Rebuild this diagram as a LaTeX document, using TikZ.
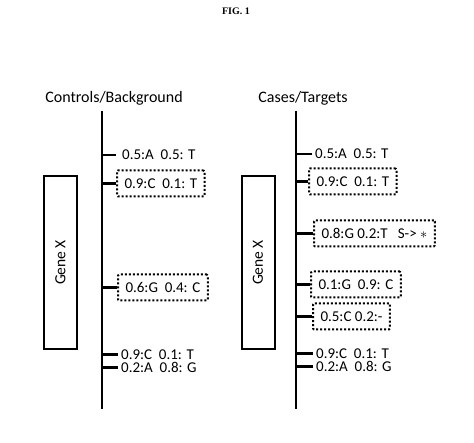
\documentclass[tikz,border=0pt]{standalone}
\usepackage{fontspec}
\setmainfont{Carlito}
\newfontfamily\figfont{Liberation Serif}
\begin{document}
\begin{tikzpicture}[x=1pt,y=-1pt,
  axis/.style={line width=2.6pt},
  tick/.style={line width=2.8pt},
  lbl/.style={anchor=west,font=\fontsize{15}{18}\selectfont,inner ysep=0pt,inner xsep=3pt,text height=9.5pt,text depth=0pt},
  dbox/.style={lbl,draw,line width=2pt,dash pattern=on 2pt off 2pt,rounded corners=1pt,minimum height=26pt,inner xsep=7.5pt},
  gene/.style={draw,line width=2pt,rotate=90,minimum width=173pt,minimum height=33pt,font=\fontsize{15.5}{18}\selectfont,inner sep=0pt},
  ttl/.style={anchor=base,font=\fontsize{16}{19}\selectfont,inner sep=0pt}]
\useasboundingbox (0,0) rectangle (474,443);
\node[anchor=base,font=\figfont\bfseries\fontsize{10}{12}\selectfont,inner sep=0pt] (fig) at (236,15) {FIG. 1};
% left
\node[ttl] (tL) at (114,103) {Controls/Background};
\coordinate (aLt) at (102,111);
\coordinate (aLb) at (102,409);
\draw[axis] (aLt) -- (aLb);
\node[gene] (gL) at (60.5,262.5) {Gene X};
\node[lbl,inner xsep=6pt] (L1) at (116,155) {0.5:A\ \ 0.5: T};
\node[dbox] (L2) at (116,183.5) {0.9:C\ \ 0.1: T};
\node[dbox] (L3) at (117,287.5) {0.6:G\ \ 0.4: C};
\node[lbl] (L4) at (118,354.5) {0.9:C\ \ 0.1: T};
\node[lbl] (L5) at (118,367.5) {0.2:A\ \ 0.8: G};
\foreach \n in {L1,L2,L3,L4,L5} \draw[tick] (\n.west -| aLt) -- (\n.west);
% right
\node[ttl] (tR) at (303,103) {Cases/Targets};
\coordinate (aRt) at (296,111);
\coordinate (aRb) at (296,409);
\draw[axis] (aRt) -- (aRb);
\node[gene] (gR) at (258,262.5) {Gene X};
\node[lbl] (R1) at (312,154) {0.5:A\ \ 0.5: T};
\node[dbox] (R2) at (308,181.5) {0.9:C\ \ 0.1: T};
\node[dbox] (R3) at (313,233.5) {0.8:G 0.2:T\ \ \ S-> $\ast$};
\node[dbox] (R4) at (310,284.5) {0.1:G\ \ 0.9: C};
\node[dbox] (R5) at (312,316.5) {0.5:C 0.2:-};
\node[lbl] (R6) at (313,353.5) {0.9:C\ \ 0.1: T};
\node[lbl] (R7) at (313,366.5) {0.2:A\ \ 0.8: G};
\foreach \n in {R1,R2,R3,R4,R5,R6,R7} \draw[tick] (\n.west -| aRt) -- (\n.west);
\end{tikzpicture}
\end{document}
